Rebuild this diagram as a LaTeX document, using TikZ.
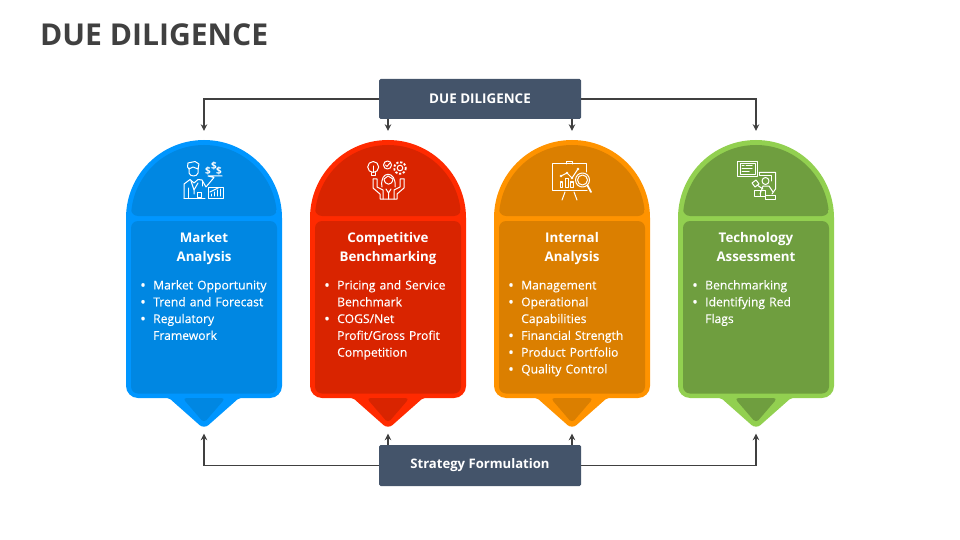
\documentclass[tikz,border=0pt]{standalone}
\usepackage{fontspec}
\setmainfont{Open Sans}
\newfontfamily\semifont{Open Sans}[FakeBold=0.3]
\usetikzlibrary{positioning,arrows.meta}

\definecolor{titlegrey}{HTML}{404040}
\definecolor{boxslate}{HTML}{44546A}
\definecolor{blueout}{HTML}{0096FF}
\definecolor{bluein}{HTML}{0087E2}
\definecolor{redout}{HTML}{FF2A00}
\definecolor{redin}{HTML}{D92400}
\definecolor{orangeout}{HTML}{FF9300}
\definecolor{orangein}{HTML}{DB7F00}
\definecolor{greenout}{HTML}{92D050}
\definecolor{greenin}{HTML}{6F9E3F}

\tikzset{
    headbox/.style={fill=boxslate, rounded corners=1.5pt, minimum width=202pt, minimum height=40pt, text=white, font=\fontsize{13.4}{15}\selectfont\bfseries},
    cardbox/.style={minimum width=156pt, minimum height=287pt, inner sep=0pt},
    link/.style={draw=titlegrey, line width=1.5pt, -{Stealth[length=6.5pt,width=6.5pt]}},
    cardhead/.style={anchor=north, text=white, align=center, text width=150pt, inner sep=0pt, font=\fontsize{13.3}{19}\selectfont\bfseries},
    cardlist/.style={anchor=north west, text=white, align=left, text width=140pt, inner sep=0pt, font=\fontsize{12.15}{16.8}\selectfont\semifont},
    iconline/.style={draw=white, line width=1pt, line join=round, line cap=round},
    icontext/.style={text=white, inner sep=0pt, font=\fontsize{10}{10}\selectfont\bfseries},
}

\newcommand{\itm}[1]{\strut\makebox[16pt][l]{\hspace{3pt}{\fontsize{15}{16.8}\selectfont\raisebox{-1pt}{\textbullet}}}#1\\}
\newcommand{\cnt}[1]{\hspace*{16pt}#1\\}

\begin{document}
\begin{tikzpicture}[x=1pt, y=-1pt]
    \useasboundingbox (0,0) rectangle (960,540);

    \node[anchor=west, inner sep=0pt, text=titlegrey, font=\fontsize{30.1}{34}\selectfont\bfseries] (title) at (40,35) {DUE DILIGENCE};

    % cards
    \foreach \x/\outer/\inner/\id in {204/blueout/bluein/1, 388/redout/redin/2, 572/orangeout/orangein/3, 756/greenout/greenin/4} {
        \node[cardbox] (card\id) at (\x,283.5) {};
        \fill[\outer] (\x-78,218) arc (180:360:78)
            [rounded corners=12pt] -- (\x+78,398)
            [rounded corners=2pt] -- (\x+35,398)
            [rounded corners=6pt] -- (\x,429)
            [rounded corners=2pt] -- (\x-35,398)
            [rounded corners=12pt] -- (\x-78,398)
            [sharp corners] -- cycle;
        \begin{scope}
            \clip (\x,218) circle (73);
            \fill[\inner, rounded corners=7pt] (\x-73,140) rectangle (\x+73,216);
        \end{scope}
        \fill[\inner, rounded corners=7pt] (\x-73,221) rectangle (\x+73,393.5);
        \fill[\inner, rounded corners=4pt] (\x-21.5,398) -- (\x+21.5,398) -- (\x,423) -- cycle;
    }

    % boxes on top and bottom
    \node[headbox] (dd) at (480,99) {DUE DILIGENCE};
    \node[headbox, minimum height=41pt, font=\fontsize{13.1}{15}\selectfont\bfseries] (sf) at (480,465.5) {\raisebox{-0.8pt}{Strategy Formulation}};

    \draw[link] (dd.west) -| ([yshift=9pt]card1.north);
    \draw[link] (dd.east) -| ([yshift=9pt]card4.north);
    \draw[link] (card2.north |- dd.south) -- ([yshift=9pt]card2.north);
    \draw[link] (card3.north |- dd.south) -- ([yshift=9pt]card3.north);
    \draw[link] (sf.west) -| ([yshift=-6.5pt]card1.south);
    \draw[link] (sf.east) -| ([yshift=-6.5pt]card4.south);
    \draw[link] (card2.south |- sf.north) -- ([yshift=-6.5pt]card2.south);
    \draw[link] (card3.south |- sf.north) -- ([yshift=-6.5pt]card3.south);

    % headings
    \node[cardhead] (head1) at (204,229.4) {\strut Market\\Analysis};
    \node[cardhead] (head2) at (388,229.4) {\strut Competitive\\Benchmarking};
    \node[cardhead] (head3) at (572,229.4) {\strut Internal\\Analysis};
    \node[cardhead] (head4) at (756,229.4) {\strut Technology\\Assessment};

    % lists
    \node[cardlist] (list1) at (137,277.5) {\itm{Market Opportunity}\itm{Trend and Forecast}\itm{Regulatory}\cnt{Framework}};
    \node[cardlist] (list2) at (321,277.5) {\itm{Pricing and Service}\cnt{Benchmark}\itm{COGS/Net}\cnt{Profit/Gross Profit}\cnt{Competition}};
    \node[cardlist] (list3) at (505,277.5) {\itm{Management}\itm{Operational}\cnt{Capabilities}\itm{Financial Strength}\itm{Product Portfolio}\itm{Quality Control}};
    \node[cardlist] (list4) at (689,277.5) {\itm{Benchmarking}\itm{Identifying Red}\cnt{Flags}};

    % icon market
    \draw[iconline] (189,168) -- (189,173) .. controls (190,177) and (197,177) .. (198,173) -- (198,168);
    \draw[iconline] (189,169) -- (187.5,167) -- (188,163) -- (195,161.5) -- (199,164) -- (198,169) -- (193,167) -- (189,169);
    \draw[iconline] (184,198.5) -- (184,184) -- (190,179.5) -- (194,183) -- (198,179.5) -- (202,180) -- (206,187) -- (214,177.5) -- (208,176) -- (222,176);
    \draw[iconline] (184,198.5) -- (205,198.5) (188.5,188) -- (188.5,198.5);
    \draw[iconline] (191,181) -- (194,190) -- (198,183) (194,190) -- (194,194);
    \draw[iconline] (197,192) rectangle (201,197);
    \draw[iconline] (202,181) -- (202,186);
    \draw[iconline] (208,187) rectangle (223,198.5);
    \draw[iconline] (211,196) -- (211,194) (214,196) -- (214,192) (217,196) -- (217,190) (220,196) -- (220,189);
    \draw[iconline] (210,192) -- (219,187.5);
    \node[icontext] (dollar1) at (208,170.5) {\$};
    \node[icontext] (dollar2) at (214,166) {\$};
    \node[icontext] (dollar3) at (219,170.5) {\$};

    % icon competitive
    \draw[iconline] (373.2,167) circle (5.5);
    \draw[iconline] (371,172.5) -- (371,176) -- (375.5,176) -- (375.5,172.5);
    \draw[iconline] (373.2,166) -- (373.2,172);
    \draw[iconline] (387.5,165) circle (4);
    \draw[iconline] (385.5,165) -- (387,166.5) -- (389.5,163.5);
    \draw[iconline] (400,168) circle (2.8);
    \draw[iconline, line width=1.8pt, dash pattern=on 2.2pt off 1.7pt, line cap=butt] (400,168) circle (5.8);
    \draw[iconline] (382,187) .. controls (379,170) and (397,170) .. (395,187);
    \draw[iconline] (384,179) .. controls (385,186) and (392,186) .. (393,179) -- (388,176) -- (384,179);
    \draw[iconline] (373,179) -- (373,188) -- (380,194) -- (380,199) -- (397,199) -- (397,194) -- (404,188) -- (404,179);
    \draw[iconline] (373,179) -- (377,179) -- (377,187) -- (383,190) -- (383,199);
    \draw[iconline] (404,179) -- (400,179) -- (400,187) -- (394,190) -- (394,199);
    \draw[iconline] (386,189) -- (388.5,193) -- (391,189) (388.5,193) -- (388.5,199);

    % icon internal
    \draw[iconline] (552.5,164) -- (552.5,190.5) -- (587,190.5) (552.5,164) -- (586.5,164) -- (586.5,172);
    \draw[iconline] (566.5,164) -- (566.5,161.5) -- (572,161.5) -- (572,164);
    \draw[iconline] (565,192) -- (562,200) (574,192) -- (577,200);
    \draw[iconline] (561,176) -- (567,173) -- (572,178) -- (578,169);
    \foreach \px/\py in {561/176, 567/173, 572/178, 578/169} {
        \fill[white] (\px,\py) circle (1.3);
    }
    \draw[iconline] (560.5,182) rectangle (562.5,187.5);
    \draw[iconline] (565.5,178.5) rectangle (568,187.5);
    \draw[iconline] (570.5,182) rectangle (573,187.5);
    \draw[iconline] (582.5,180) circle (7);
    \draw[iconline] (582.5,180) circle (5);
    \draw[iconline, line width=1.8pt] (587.5,185.5) -- (591,192);

    % icon technology
    \draw[iconline] (737.5,161.5) rectangle (757,177);
    \draw[iconline] (740,163.5) rectangle (755,174.5);
    \draw[iconline] (742,166) -- (744,166) (746,166) -- (752,166);
    \draw[iconline] (742,169) -- (752,169) (742,172) -- (749,172);
    \draw[iconline] (759,172.5) -- (775.5,172.5) -- (775.5,189) -- (772,194);
    \draw[iconline] (759,172.5) -- (759,176) -- (771,176) -- (771,181);
    \draw[iconline] (765.5,181) circle (3.5);
    \draw[iconline] (760,194) -- (763,186) -- (769,186) -- (773,192);
    \draw[iconline] (752,183) -- (756,180) -- (759,184) -- (755,187) -- cycle;
    \draw[iconline] (757,185) -- (763,189);
    \draw[iconline] (754,190) rectangle (760,196);
    \draw[iconline] (760,190) rectangle (765,196);
    \draw[iconline] (765,195) -- (775,195) -- (775,199.5) -- (765,199.5) -- cycle;
\end{tikzpicture}
\end{document}
